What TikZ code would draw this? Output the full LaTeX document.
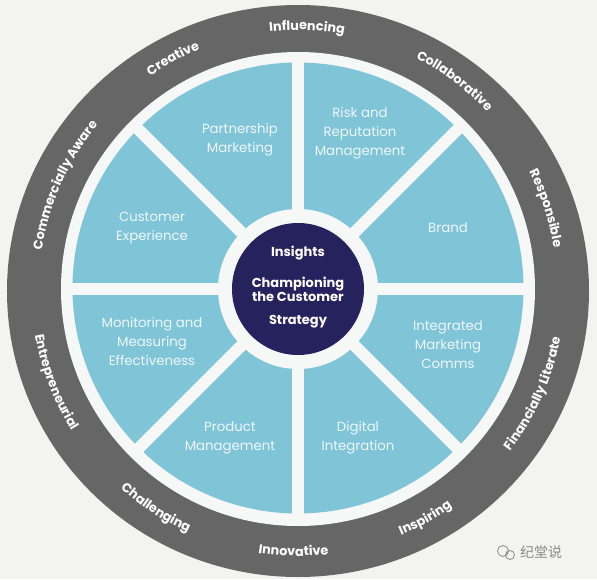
\documentclass[tikz,border=0pt]{standalone}
\usepackage{fontspec}
\setmainfont{Poppins}
\newfontfamily\cjkfont{Noto Sans CJK SC}
\usetikzlibrary{decorations.text}
\definecolor{cring}{HTML}{666666}
\definecolor{cseg}{HTML}{80C4D7}
\definecolor{cnavy}{HTML}{25225E}
\definecolor{cpaper}{HTML}{F3F3F1}
\definecolor{cgap}{HTML}{F6F8F8}
\definecolor{csegtext}{HTML}{EEF8FB}
\definecolor{cmark}{HTML}{8A8A8A}
\tikzset{
  every picture/.style={x=1pt, y=1pt},
  seglabel/.style={text=csegtext, align=center, font=\fontsize{13.3}{19}\selectfont},
  corelabel/.style={text=white, align=center, font=\bfseries\fontsize{13}{14}\selectfont},
  ringword/.style={decorate, decoration={text along path, text align=center,
    text={|\bfseries\fontsize{12.8}{14}\selectfont\color{white}|#1}}},
  gap/.style={draw=cgap, line width=12pt},
}

\begin{document}
\begin{tikzpicture}
  % canvas: origin at the wheel's centre
  \useasboundingbox (-298,-290) rectangle (299,289);
  \fill[cpaper] (-298,-290) rectangle (299,289);
  % rings and sectors
  \fill[cring] (0,-2) ellipse [x radius=291, y radius=286];
  \fill[cgap] (0,0) circle (237);
  \fill[cseg] (0,1) circle (225.5);
  \foreach \a in {0,45,90,135}
    \draw[gap] (\a:231) -- (\a+180:231);
  \fill[cgap] (0,0) circle (80);
  \fill[cnavy] (0,0) circle (66);
  % ring words, upper half read clockwise
  \foreach \ang/\word in {156/Commercially Aware, 118.5/Creative, 88/Influencing, 53/Collaborative, 18/Responsible}
    \path[ringword/.expanded=\word] (\ang+50:259) arc[start angle=\ang+50, end angle=\ang-50, radius=259];
  % ring words, lower half read anticlockwise
  \foreach \ang/\word in {201/Entrepreneurial, 237/Challenging, 269/Innovative, 299/Inspiring, 336/Financially Literate}
    \path[ringword/.expanded=\word] (\ang-50:267) arc[start angle=\ang-50, end angle=\ang+50, radius=267];
  % sector labels
  \node[seglabel] (partner) at (-58,149) {Partnership\\Marketing};
  \node[seglabel] (risk) at (62,156) {Risk and\\Reputation\\Management};
  \node[seglabel] (brand) at (150,61) {Brand};
  \node[seglabel] (imc) at (150,-56) {Integrated\\Marketing\\Comms};
  \node[seglabel] (digital) at (60,-149) {Digital\\Integration};
  \node[seglabel] (product) at (-68,-149) {Product\\Management};
  \node[seglabel] (monitor) at (-146,-52) {Monitoring and\\Measuring\\Effectiveness};
  \node[seglabel] (custexp) at (-146,61) {Customer\\Experience};
  % core
  \node[corelabel] (insights) at (0,36) {Insights};
  \node[corelabel] (champion) at (0,0) {Championing\\the Customer};
  \node[corelabel] (strategy) at (0,-33) {Strategy};
  % watermark
  \draw[cmark, line width=0.8pt] (205,-262) circle (5.5) (212,-266) circle (4.5);
  \node[text=cmark, font=\cjkfont\fontsize{14}{16}\selectfont] (mark) at (243,-263) {纪堂说};
\end{tikzpicture}
\end{document}
